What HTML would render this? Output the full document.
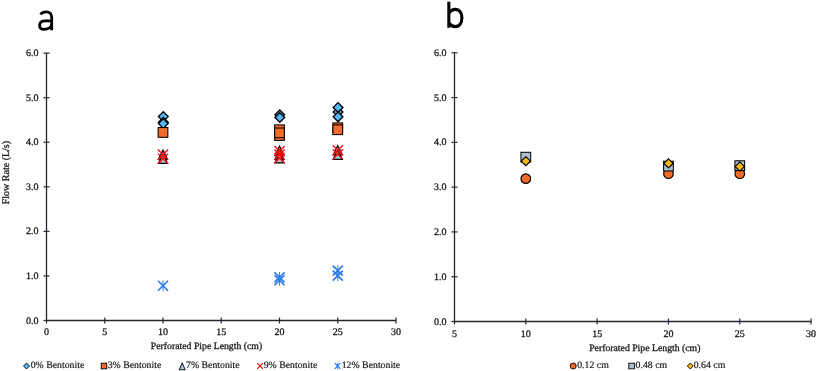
<!DOCTYPE html>
<html><head><meta charset="utf-8"><style>
html,body{margin:0;padding:0;background:#fff;width:817px;height:371px;overflow:hidden;}
svg{display:block;font-family:"Liberation Serif", serif;will-change:transform;text-rendering:geometricPrecision;}
</style></head><body>
<svg width="817" height="371" viewBox="0 0 817 371">
<rect width="817" height="371" fill="#fff"/>
<path d="M40.5,14.3C42,12.3 44,11.9 46,11.9C50,11.9 51.7,13.8 51.7,17.5V30.2M51.7,20.9H45.5C41.5,20.9 39.6,22.6 39.6,25.4C39.6,28 41.4,29.3 44.2,29.3C48.5,29.3 51.7,27 51.7,23.5" stroke="#000" stroke-width="2.8" fill="none"/>
<path d="M448.85,1.7V27.8M448.85,13.2C450.5,10.6 452.5,9.4 455.2,9.4C459.5,9.4 461.9,12.8 461.9,18C461.9,23.2 459.4,26.6 455.1,26.6C452.3,26.6 450.3,25.3 448.85,22.9" stroke="#000" stroke-width="3.1" fill="none"/>
<g font-family="Liberation Serif, serif" fill="#1a1a1a">
<path d="M46.50,53.10V320.50H396.00" stroke="#262630" stroke-width="1.3" fill="none"/>
<path d="M43.50,320.50H46.50" stroke="#262630" stroke-width="1.2"/>
<text x="38.50" y="323.50" font-size="10" text-anchor="end" stroke="#1a1a1a" stroke-width="0.3" >0.0</text>
<path d="M43.50,275.93H49.50" stroke="#262630" stroke-width="1.2"/>
<text x="38.50" y="278.93" font-size="10" text-anchor="end" stroke="#1a1a1a" stroke-width="0.3" >1.0</text>
<path d="M43.50,231.37H49.50" stroke="#262630" stroke-width="1.2"/>
<text x="38.50" y="234.37" font-size="10" text-anchor="end" stroke="#1a1a1a" stroke-width="0.3" >2.0</text>
<path d="M43.50,186.80H49.50" stroke="#262630" stroke-width="1.2"/>
<text x="38.50" y="189.80" font-size="10" text-anchor="end" stroke="#1a1a1a" stroke-width="0.3" >3.0</text>
<path d="M43.50,142.23H49.50" stroke="#262630" stroke-width="1.2"/>
<text x="38.50" y="145.23" font-size="10" text-anchor="end" stroke="#1a1a1a" stroke-width="0.3" >4.0</text>
<path d="M43.50,97.67H49.50" stroke="#262630" stroke-width="1.2"/>
<text x="38.50" y="100.67" font-size="10" text-anchor="end" stroke="#1a1a1a" stroke-width="0.3" >5.0</text>
<path d="M43.50,53.10H49.50" stroke="#262630" stroke-width="1.2"/>
<text x="38.50" y="56.10" font-size="10" text-anchor="end" stroke="#1a1a1a" stroke-width="0.3" >6.0</text>
<path d="M46.50,323.50V320.50" stroke="#262630" stroke-width="1.2"/>
<text x="46.50" y="335.20" font-size="10" text-anchor="middle" stroke="#1a1a1a" stroke-width="0.3" >0</text>
<path d="M104.75,323.50V317.50" stroke="#262630" stroke-width="1.2"/>
<text x="104.75" y="335.20" font-size="10" text-anchor="middle" stroke="#1a1a1a" stroke-width="0.3" >5</text>
<path d="M163.00,323.50V317.50" stroke="#262630" stroke-width="1.2"/>
<text x="163.00" y="335.20" font-size="10" text-anchor="middle" stroke="#1a1a1a" stroke-width="0.3" >10</text>
<path d="M221.25,323.50V317.50" stroke="#262630" stroke-width="1.2"/>
<text x="221.25" y="335.20" font-size="10" text-anchor="middle" stroke="#1a1a1a" stroke-width="0.3" >15</text>
<path d="M279.50,323.50V317.50" stroke="#262630" stroke-width="1.2"/>
<text x="279.50" y="335.20" font-size="10" text-anchor="middle" stroke="#1a1a1a" stroke-width="0.3" >20</text>
<path d="M337.75,323.50V317.50" stroke="#262630" stroke-width="1.2"/>
<text x="337.75" y="335.20" font-size="10" text-anchor="middle" stroke="#1a1a1a" stroke-width="0.3" >25</text>
<path d="M396.00,323.50V317.50" stroke="#262630" stroke-width="1.2"/>
<text x="396.00" y="335.20" font-size="10" text-anchor="middle" stroke="#1a1a1a" stroke-width="0.3" >30</text>
<text x="206.50" y="348.90" font-size="9.75" text-anchor="middle" stroke="#1a1a1a" stroke-width="0.3" >Perforated Pipe Length (cm)</text>
<text transform="translate(8.7,172.6) rotate(-90)" x="0" y="0" font-size="10" text-anchor="middle" stroke="#1a1a1a" stroke-width="0.3">Flow Rate (L/s)</text>
<path d="M454.50,52.80V321.50H811.10" stroke="#262630" stroke-width="1.3" fill="none"/>
<path d="M451.50,321.50H454.50" stroke="#262630" stroke-width="1.2"/>
<text x="446.40" y="324.50" font-size="10" text-anchor="end" stroke="#1a1a1a" stroke-width="0.3" >0.0</text>
<path d="M451.50,276.72H457.50" stroke="#262630" stroke-width="1.2"/>
<text x="446.40" y="279.72" font-size="10" text-anchor="end" stroke="#1a1a1a" stroke-width="0.3" >1.0</text>
<path d="M451.50,231.93H457.50" stroke="#262630" stroke-width="1.2"/>
<text x="446.40" y="234.93" font-size="10" text-anchor="end" stroke="#1a1a1a" stroke-width="0.3" >2.0</text>
<path d="M451.50,187.15H457.50" stroke="#262630" stroke-width="1.2"/>
<text x="446.40" y="190.15" font-size="10" text-anchor="end" stroke="#1a1a1a" stroke-width="0.3" >3.0</text>
<path d="M451.50,142.37H457.50" stroke="#262630" stroke-width="1.2"/>
<text x="446.40" y="145.37" font-size="10" text-anchor="end" stroke="#1a1a1a" stroke-width="0.3" >4.0</text>
<path d="M451.50,97.58H457.50" stroke="#262630" stroke-width="1.2"/>
<text x="446.40" y="100.58" font-size="10" text-anchor="end" stroke="#1a1a1a" stroke-width="0.3" >5.0</text>
<path d="M451.50,52.80H457.50" stroke="#262630" stroke-width="1.2"/>
<text x="446.40" y="55.80" font-size="10" text-anchor="end" stroke="#1a1a1a" stroke-width="0.3" >6.0</text>
<path d="M454.50,324.50V321.50" stroke="#262630" stroke-width="1.2"/>
<text x="454.50" y="336.50" font-size="10" text-anchor="middle" stroke="#1a1a1a" stroke-width="0.3" >5</text>
<path d="M525.82,324.50V318.50" stroke="#262630" stroke-width="1.2"/>
<text x="525.82" y="336.50" font-size="10" text-anchor="middle" stroke="#1a1a1a" stroke-width="0.3" >10</text>
<path d="M597.14,324.50V318.50" stroke="#262630" stroke-width="1.2"/>
<text x="597.14" y="336.50" font-size="10" text-anchor="middle" stroke="#1a1a1a" stroke-width="0.3" >15</text>
<path d="M668.46,324.50V318.50" stroke="#262630" stroke-width="1.2"/>
<text x="668.46" y="336.50" font-size="10" text-anchor="middle" stroke="#1a1a1a" stroke-width="0.3" >20</text>
<path d="M739.78,324.50V318.50" stroke="#262630" stroke-width="1.2"/>
<text x="739.78" y="336.50" font-size="10" text-anchor="middle" stroke="#1a1a1a" stroke-width="0.3" >25</text>
<path d="M811.10,324.50V318.50" stroke="#262630" stroke-width="1.2"/>
<text x="811.10" y="336.50" font-size="10" text-anchor="middle" stroke="#1a1a1a" stroke-width="0.3" >30</text>
<text x="644.80" y="350.90" font-size="9.75" text-anchor="middle" stroke="#1a1a1a" stroke-width="0.3" >Perforated Pipe Length (cm)</text>
</g>
<polygon points="163.30,111.76 168.15,116.61 163.30,121.46 158.45,116.61" fill="#52b8ef" stroke="#000" stroke-width="1.35"/>
<polygon points="163.30,117.33 168.15,122.18 163.30,127.03 158.45,122.18" fill="#52b8ef" stroke="#000" stroke-width="1.35"/>
<polygon points="163.30,118.67 168.15,123.52 163.30,128.37 158.45,123.52" fill="#52b8ef" stroke="#000" stroke-width="1.35"/>
<polygon points="279.80,109.97 284.65,114.82 279.80,119.67 274.95,114.82" fill="#52b8ef" stroke="#000" stroke-width="1.35"/>
<polygon points="279.80,112.65 284.65,117.50 279.80,122.35 274.95,117.50" fill="#52b8ef" stroke="#000" stroke-width="1.35"/>
<polygon points="338.05,107.08 342.90,111.93 338.05,116.78 333.20,111.93" fill="#52b8ef" stroke="#000" stroke-width="1.35"/>
<polygon points="338.05,102.62 342.90,107.47 338.05,112.32 333.20,107.47" fill="#52b8ef" stroke="#000" stroke-width="1.35"/>
<polygon points="338.05,111.98 342.90,116.83 338.05,121.68 333.20,116.83" fill="#52b8ef" stroke="#000" stroke-width="1.35"/>
<rect x="158.15" y="127.58" width="9.70" height="9.70" fill="#f26b2b" stroke="#000" stroke-width="1.05"/>
<rect x="274.65" y="130.70" width="9.70" height="9.70" fill="#f26b2b" stroke="#000" stroke-width="1.05"/>
<rect x="274.65" y="124.90" width="9.70" height="9.70" fill="#f26b2b" stroke="#000" stroke-width="1.05"/>
<rect x="274.65" y="128.02" width="9.70" height="9.70" fill="#f26b2b" stroke="#000" stroke-width="1.05"/>
<rect x="332.90" y="122.90" width="9.70" height="9.70" fill="#f26b2b" stroke="#000" stroke-width="1.05"/>
<rect x="332.90" y="124.90" width="9.70" height="9.70" fill="#f26b2b" stroke="#000" stroke-width="1.05"/>
<polygon points="163.00,150.11 167.60,159.31 158.40,159.31" fill="#a6c6d6" stroke="#000" stroke-width="1.2"/>
<polygon points="163.00,154.12 167.60,163.32 158.40,163.32" fill="#a6c6d6" stroke="#000" stroke-width="1.2"/>
<polygon points="279.50,146.10 284.10,155.30 274.90,155.30" fill="#a6c6d6" stroke="#000" stroke-width="1.2"/>
<polygon points="279.50,150.11 284.10,159.31 274.90,159.31" fill="#a6c6d6" stroke="#000" stroke-width="1.2"/>
<polygon points="279.50,153.68 284.10,162.88 274.90,162.88" fill="#a6c6d6" stroke="#000" stroke-width="1.2"/>
<polygon points="337.75,145.66 342.35,154.86 333.15,154.86" fill="#a6c6d6" stroke="#000" stroke-width="1.2"/>
<polygon points="337.75,150.11 342.35,159.31 333.15,159.31" fill="#a6c6d6" stroke="#000" stroke-width="1.2"/>
<path d="M157.90,149.61L168.10,159.81M168.10,149.61L157.90,159.81" stroke="#ff0a0a" stroke-width="1.4" fill="none"/>
<path d="M157.90,153.62L168.10,163.82M168.10,153.62L157.90,163.82" stroke="#ff0a0a" stroke-width="1.4" fill="none"/>
<path d="M274.40,146.05L284.60,156.25M284.60,146.05L274.40,156.25" stroke="#ff0a0a" stroke-width="1.4" fill="none"/>
<path d="M274.40,149.61L284.60,159.81M284.60,149.61L274.40,159.81" stroke="#ff0a0a" stroke-width="1.4" fill="none"/>
<path d="M274.40,152.95L284.60,163.15M284.60,152.95L274.40,163.15" stroke="#ff0a0a" stroke-width="1.4" fill="none"/>
<path d="M332.65,145.16L342.85,155.36M342.85,145.16L332.65,155.36" stroke="#ff0a0a" stroke-width="1.4" fill="none"/>
<path d="M332.65,149.17L342.85,159.37M342.85,149.17L332.65,159.37" stroke="#ff0a0a" stroke-width="1.4" fill="none"/>
<path d="M158.00,280.74L168.00,290.74M168.00,280.74L158.00,290.74" stroke="#2e7bea" stroke-width="1.7" fill="none"/>
<path d="M163.00,280.24L163.00,291.24" stroke="#2e7bea" stroke-width="1.1" fill="none" opacity="0.9"/>
<path d="M274.50,272.36L284.50,282.36M284.50,272.36L274.50,282.36" stroke="#2e7bea" stroke-width="1.7" fill="none"/>
<path d="M279.50,271.86L279.50,282.86" stroke="#2e7bea" stroke-width="1.1" fill="none" opacity="0.9"/>
<path d="M274.50,275.26L284.50,285.26M284.50,275.26L274.50,285.26" stroke="#2e7bea" stroke-width="1.7" fill="none"/>
<path d="M279.50,274.76L279.50,285.76" stroke="#2e7bea" stroke-width="1.1" fill="none" opacity="0.9"/>
<path d="M332.75,265.72L342.75,275.72M342.75,265.72L332.75,275.72" stroke="#2e7bea" stroke-width="1.7" fill="none"/>
<path d="M337.75,265.22L337.75,276.22" stroke="#2e7bea" stroke-width="1.1" fill="none" opacity="0.9"/>
<path d="M332.75,270.67L342.75,280.67M342.75,270.67L332.75,280.67" stroke="#2e7bea" stroke-width="1.7" fill="none"/>
<path d="M337.75,270.17L337.75,281.17" stroke="#2e7bea" stroke-width="1.1" fill="none" opacity="0.9"/>
<circle cx="525.82" cy="178.64" r="4.80" fill="#f26b2b" stroke="#000" stroke-width="1.2"/>
<circle cx="668.46" cy="173.72" r="4.80" fill="#f26b2b" stroke="#000" stroke-width="1.2"/>
<circle cx="739.78" cy="173.72" r="4.80" fill="#f26b2b" stroke="#000" stroke-width="1.2"/>
<rect x="520.97" y="152.30" width="9.70" height="9.70" fill="#a9c3cf" stroke="#000" stroke-width="1.05"/>
<rect x="663.61" y="161.25" width="9.70" height="9.70" fill="#a9c3cf" stroke="#000" stroke-width="1.05"/>
<rect x="734.93" y="160.80" width="9.70" height="9.70" fill="#a9c3cf" stroke="#000" stroke-width="1.05"/>
<polygon points="525.82,156.58 530.42,161.18 525.82,165.78 521.22,161.18" fill="#f5b814" stroke="#000" stroke-width="1.15"/>
<polygon points="668.46,158.81 673.06,163.41 668.46,168.01 663.86,163.41" fill="#f5b814" stroke="#000" stroke-width="1.15"/>
<polygon points="739.78,161.95 744.38,166.55 739.78,171.15 735.18,166.55" fill="#f5b814" stroke="#000" stroke-width="1.15"/>
<g font-family="Liberation Serif, serif" fill="#1a1a1a" font-size="10">
<polygon points="26.50,363.00 29.50,366.00 26.50,369.00 23.50,366.00" fill="#52b8ef" stroke="#000" stroke-width="0.9"/>
<text x="30.70" y="368.40" font-size="9.8" text-anchor="start" stroke="#1a1a1a" stroke-width="0.2" >0% Bentonite</text>
<rect x="101.20" y="363.20" width="5.60" height="5.60" fill="#f26b2b" stroke="#000" stroke-width="0.9"/>
<text x="107.70" y="368.40" font-size="9.8" text-anchor="start" stroke="#1a1a1a" stroke-width="0.2" >3% Bentonite</text>
<polygon points="182.20,362.80 185.20,369.80 179.20,369.80" fill="#a6c6d6" stroke="#000" stroke-width="0.9"/>
<text x="186.00" y="368.40" font-size="9.8" text-anchor="start" stroke="#1a1a1a" stroke-width="0.2" >7% Bentonite</text>
<path d="M257.30,363.20L262.90,368.80M262.90,363.20L257.30,368.80" stroke="#ff0a0a" stroke-width="1.2" fill="none"/>
<text x="263.70" y="368.40" font-size="9.8" text-anchor="start" stroke="#1a1a1a" stroke-width="0.2" >9% Bentonite</text>
<path d="M334.80,363.20L340.40,368.80M340.40,363.20L334.80,368.80" stroke="#2e7bea" stroke-width="1.2" fill="none"/>
<path d="M337.60,362.70L337.60,369.30" stroke="#2e7bea" stroke-width="1.1" fill="none" opacity="0.9"/>
<text x="341.70" y="368.40" font-size="9.8" text-anchor="start" stroke="#1a1a1a" stroke-width="0.2" >12% Bentonite</text>
<circle cx="573.20" cy="366.00" r="3.00" fill="#f26b2b" stroke="#000" stroke-width="0.9"/>
<text x="577.20" y="368.40" font-size="9.8" text-anchor="start" stroke="#1a1a1a" stroke-width="0.2" >0.12 cm</text>
<rect x="628.80" y="363.20" width="5.60" height="5.60" fill="#a9c3cf" stroke="#000" stroke-width="0.9"/>
<text x="635.60" y="368.40" font-size="9.8" text-anchor="start" stroke="#1a1a1a" stroke-width="0.2" >0.48 cm</text>
<polygon points="690.30,363.00 693.30,366.00 690.30,369.00 687.30,366.00" fill="#f5b814" stroke="#000" stroke-width="0.9"/>
<text x="693.70" y="368.40" font-size="9.8" text-anchor="start" stroke="#1a1a1a" stroke-width="0.2" >0.64 cm</text>
</g>
</svg>
</body></html>
